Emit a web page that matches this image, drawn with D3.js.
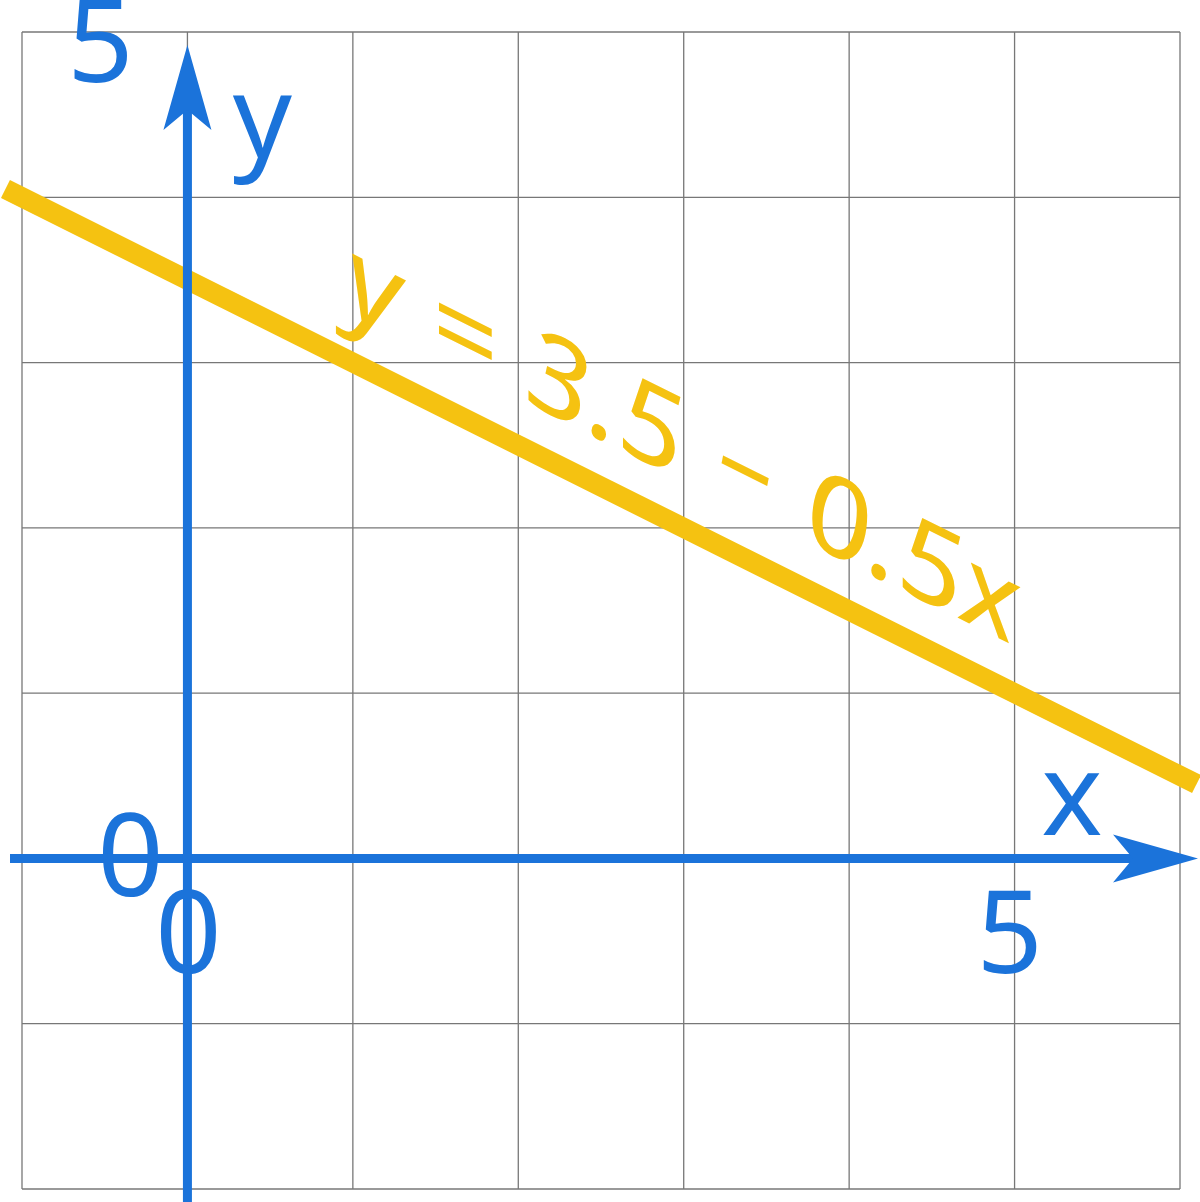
<!DOCTYPE html>
<html>
<head>
<meta charset="utf-8">
<script src="https://cdn.jsdelivr.net/npm/d3@7"></script>
<style>
  html, body { margin: 0; padding: 0; background: #fff; }
  svg { display: block; }
</style>
</head>
<body>
<div id="chart"></div>
<script>
// grid values
const gridX = [-1, 0, 1, 2, 3, 4, 5, 6];
const gridY = [-2, -1, 0, 1, 2, 3, 4, 5];

// tick labels shown on the axes
const xTickLabels = [{ v: 0, t: "0" }, { v: 5, t: "5" }];
const yTickLabels = [{ v: 0, t: "0" }, { v: 5, t: "5" }];

// the plotted line y = 3.5 - 0.5x (end points)
const linePoints = [
  { x: -1.1, y: 4.05 },
  { x: 6.1, y: 0.45 }
];
// equation label, split so the minus sign can use a font that has it
const labelParts = ["y = 3.5 ", "\u2212", " 0.5x"];

const width = 1200, height = 1202;
const blue = "#1b73da";
const yellow = "#f5c211";

const svg = d3.select("#chart").append("svg")
  .attr("width", width)
  .attr("height", height);

const x = d3.scaleLinear().domain([-1, 6]).range([22, 1180]);
const y = d3.scaleLinear().domain([-2, 5]).range([1189, 32]);

// grid
const grid = svg.append("g").attr("stroke", "#777").attr("stroke-width", 1.3);
grid.selectAll("line.v").data(gridX).join("line")
  .attr("class", "v")
  .attr("x1", d => x(d)).attr("x2", d => x(d))
  .attr("y1", y(5)).attr("y2", y(-2));
grid.selectAll("line.h").data(gridY).join("line")
  .attr("class", "h")
  .attr("y1", d => y(d)).attr("y2", d => y(d))
  .attr("x1", x(-1)).attr("x2", x(6));

// the yellow line
const lineGen = d3.line().x(d => x(d.x)).y(d => y(d.y));
svg.append("path")
  .datum(linePoints)
  .attr("d", lineGen)
  .attr("fill", "none")
  .attr("stroke", yellow)
  .attr("stroke-width", 20);

// axes with arrow heads
const x0 = x(0), y0 = y(0);
svg.append("line")
  .attr("x1", 10).attr("x2", 1140)
  .attr("y1", y0).attr("y2", y0)
  .attr("stroke", blue).attr("stroke-width", 9);
svg.append("line")
  .attr("x1", x0).attr("x2", x0)
  .attr("y1", height).attr("y2", 100)
  .attr("stroke", blue).attr("stroke-width", 9);

function arrow(tx, ty, angle) {
  // tip at origin pointing right, then rotated
  svg.append("path")
    .attr("d", "M0,0 L-85,-24 L-65,0 L-85,24 Z")
    .attr("fill", blue)
    .attr("transform", `translate(${tx},${ty}) rotate(${angle})`);
}
arrow(1198, y0, 0);
arrow(x0, 45, -90);

// labels
const labelFont = "Noto Sans, Open Sans, sans-serif";
const labels = svg.append("g")
  .attr("fill", blue)
  .attr("font-family", labelFont)
  .attr("font-size", 116)
  .attr("text-anchor", "middle");

labels.selectAll("text.xt").data(xTickLabels).join("text")
  .attr("class", "xt")
  .attr("x", d => x(d.v) + (d.v === 0 ? 1 : -5))
  .attr("y", y0 + 115)
  .text(d => d.t);

labels.selectAll("text.yt").data(yTickLabels).join("text")
  .attr("class", "yt")
  .attr("x", d => x0 - (d.v === 0 ? 57 : 87))
  .attr("y", d => y(d.v) + (d.v === 0 ? 38 : 50))
  .text(d => d.t);

labels.append("text").attr("x", x0 + 75).attr("y", 157).text("y");
labels.append("text").attr("x", 1072).attr("y", 835).text("x");

// equation label, sheared along the line
const p1 = linePoints[0], p2 = linePoints[1];
const slope = (y(p2.y) - y(p1.y)) / (x(p2.x) - x(p1.x));
const lx = 2.99;
const ly = p1.y + (p2.y - p1.y) * (lx - p1.x) / (p2.x - p1.x);
const eq = svg.append("text")
  .attr("transform", `translate(${x(lx)},${y(ly)}) matrix(1,${slope},0,1,0,0)`)
  .attr("y", -47)
  .attr("text-anchor", "middle")
  .attr("font-family", labelFont)
  .attr("font-style", "italic")
  .attr("font-size", 115)
  .attr("fill", yellow)
  .attr("xml:space", "preserve");
eq.selectAll("tspan").data(labelParts).join("tspan")
  .attr("font-family", (d, i) => i === 1 ? "Roboto, Liberation Sans, sans-serif" : null)
  .text(d => d);
</script>
</body>
</html>
